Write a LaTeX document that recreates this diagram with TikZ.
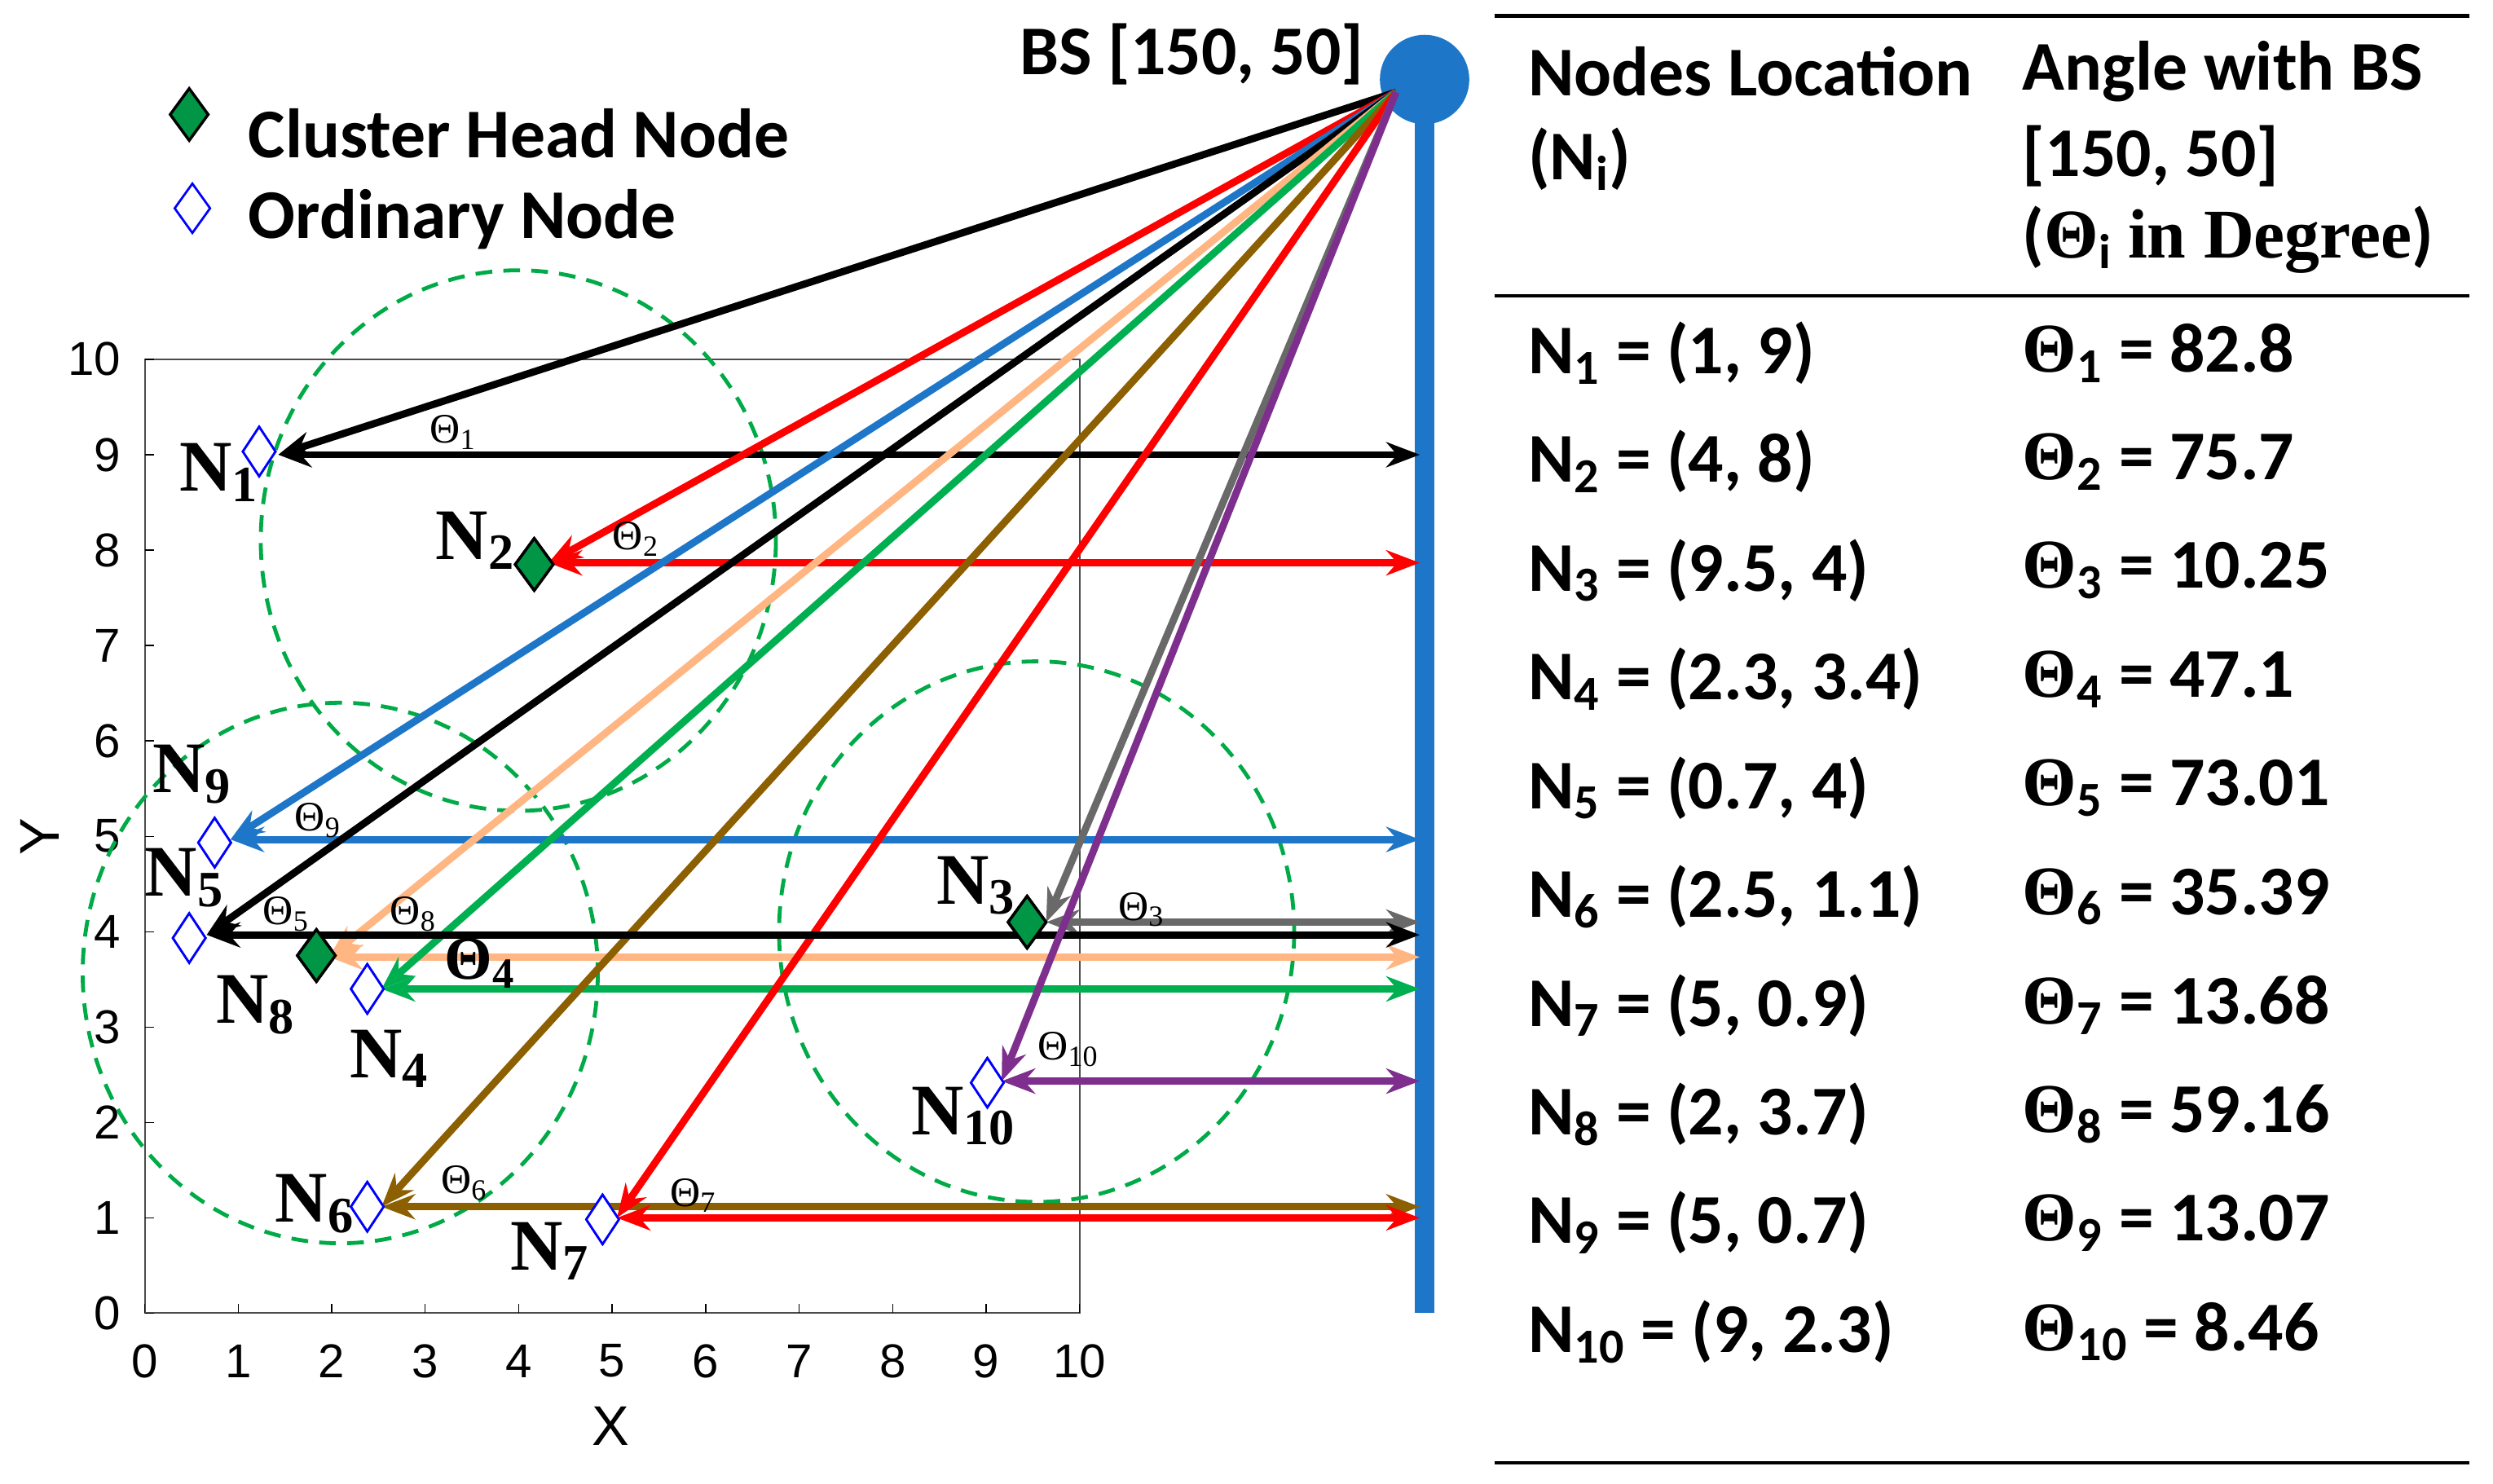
\documentclass[tikz,border=0pt]{standalone}
\usepackage{fontspec}
\setmainfont{Carlito}
\newfontfamily\tms{Liberation Serif}
\newfontfamily\arl{Liberation Sans}
\usetikzlibrary{arrows.meta,shapes.geometric}
\definecolor{cblue}{RGB}{30,118,200}
\definecolor{cpeach}{RGB}{255,182,130}
\definecolor{cgreen}{RGB}{0,176,80}
\definecolor{cbrown}{RGB}{140,95,0}
\definecolor{cgray}{RGB}{105,105,105}
\definecolor{cpurple}{RGB}{126,47,142}
\definecolor{cdash}{RGB}{0,170,70}
\definecolor{cdia}{RGB}{0,150,70}
\tikzset{
 wire/.style={line width=2.6pt,-{Stealth[length=12pt,width=9pt]}},
 hor/.style={line width=2.6pt,{Stealth[length=12pt,width=9pt]}-{Stealth[length=12pt,width=9pt]}},
 od/.style={diamond,draw=blue,fill=white,line width=0.8pt,minimum width=12pt,minimum height=18pt,inner sep=0pt},
 ch/.style={diamond,draw=black,fill=cdia,line width=1pt,minimum width=14pt,minimum height=19pt,inner sep=0pt},
 nl/.style={font=\tms\bfseries\fontsize{26}{28}\selectfont},
 th/.style={font=\tms\fontsize{15}{16}\selectfont},
 tick/.style={font=\arl\fontsize{17}{18}\selectfont},
 tb/.style={font=\bfseries\fontsize{25}{28}\selectfont,anchor=west},
 clu/.style={cdash,dashed,line width=1.4pt,dash pattern=on 6pt off 4pt}
}
\begin{document}
\begin{tikzpicture}[x=0.02cm,y=-0.02cm]
\useasboundingbox (0,0) rectangle (1568,933.4);
\draw[line width=0.6pt,black!70] (91,226) rectangle (679,826);
\foreach \i in {0,...,10}{
 \draw (91+58.8*\i,826) -- (91+58.8*\i,820);
 \draw (91,826-60*\i) -- (97,826-60*\i);
 \node[tick] (xt\i) at (91+58.8*\i,856) {\i};
 \node[tick,anchor=east] (yt\i) at (82,826-60*\i) {\i};
}
\node[tick,font=\arl\fontsize{20}{22}\selectfont] (xl) at (384,897) {X};
\node[tick,font=\arl\fontsize{20}{22}\selectfont,rotate=90] (yl) at (25,526) {Y};
\draw[clu] (326,340) ellipse (162 and 170);
\draw[clu] (214,612) ellipse (162 and 170);
\draw[clu] (652,586) ellipse (162 and 170);
\draw[cblue,line width=7pt] (896,50) -- (896,826);
\node[circle,fill=cblue,minimum size=32pt,inner sep=0pt] (bs) at (896,50) {};
\node[font=\bfseries\fontsize{25}{28}\selectfont,anchor=east] (bsl) at (864,34) {BS [150, 50]};
\coordinate (o) at (878,58);
\node[od] (n1) at (163,284) {};
\node[ch] (n2) at (336,355) {};
\node[ch] (n3) at (646,580) {};
\node[od] (n4) at (231,622) {};
\node[od] (n5) at (119,590) {};
\node[od] (n6) at (231,759) {};
\node[od] (n7) at (379,767) {};
\node[ch] (n8) at (199,601) {};
\node[od] (n9) at (135,530) {};
\node[od] (n10) at (621,681) {};
\foreach \n/\x/\y in {a1/175/286,a2/345/354,a3/658/580,a4/240/622,a5/130/588,a6/240/759,a7/388/766,a8/207/602,a9/145/528,a10/630/680}{\coordinate (\n) at (\x,\y);}
\foreach \n/\y in {b1/286,b2/354,b3/580,b4/622,b5/588,b6/759,b7/766,b8/602,b9/528,b10/680}{\coordinate (\n) at (893,\y);}
\draw[wire] (o) -- (a1); \draw[hor] (a1) -- (b1);
\draw[wire,red] (o) -- (a2); \draw[hor,red] (a2) -- (b2);
\draw[wire,cblue] (o) -- (a9); \draw[hor,cblue] (a9) -- (b9);
\draw[wire] (o) -- (a5);
\draw[wire,cpeach] (o) -- (a8); \draw[hor,cpeach] (a8) -- (b8);
\draw[wire,cgreen] (o) -- (a4); \draw[hor,cgreen] (a4) -- (b4);
\draw[wire,cbrown] (o) -- (a6); \draw[hor,cbrown] (a6) -- (b6);
\draw[wire,red] (o) -- (a7); \draw[hor,red] (a7) -- (b7);
\draw[wire,cgray] (o) -- (a3); \draw[hor,cgray] (a3) -- (b3);
\draw[hor] (a5) -- (b5);
\draw[wire,cpurple] (o) -- (a10); \draw[hor,cpurple] (a10) -- (b10);
\foreach \s/\p in {od/n1,ch/n2,ch/n3,od/n4,od/n5,od/n6,od/n7,ch/n8,od/n9,od/n10}{\node[\s] at (\p) {};}
\node[th] (t1) at (285,272) {Θ\textsubscript{1}};
\node[th] (t2) at (400,339) {Θ\textsubscript{2}};
\node[th] (t9) at (200,516) {Θ\textsubscript{9}};
\node[th] (t5) at (180,575) {Θ\textsubscript{5}};
\node[th] (t8) at (260,575) {Θ\textsubscript{8}};
\node[th,font=\tms\bfseries\fontsize{22}{24}\selectfont] (t4) at (302,606) {Θ\textsubscript{4}};
\node[th] (t3) at (718,572) {Θ\textsubscript{3}};
\node[th] (t10) at (672,660) {Θ\textsubscript{10}};
\node[th] (t6) at (292,744) {Θ\textsubscript{6}};
\node[th] (t7) at (436,752) {Θ\textsubscript{7}};
\node[nl] (l1) at (138,297) {N\textsubscript{1}};
\node[nl] (l2) at (299,340) {N\textsubscript{2}};
\node[nl] (l9) at (121,487) {N\textsubscript{9}};
\node[nl] (l5) at (116,552) {N\textsubscript{5}};
\node[nl] (l3) at (614,557) {N\textsubscript{3}};
\node[nl] (l8) at (161,632) {N\textsubscript{8}};
\node[nl] (l4) at (245,666) {N\textsubscript{4}};
\node[nl] (l10) at (606,702) {N\textsubscript{10}};
\node[nl] (l6) at (198,757) {N\textsubscript{6}};
\node[nl] (l7) at (346,787) {N\textsubscript{7}};
\node[ch,minimum width=14pt,minimum height=19pt] (lg1) at (119,72) {};
\node[od,minimum width=13pt,minimum height=18pt] (lg2) at (121,131) {};
\node[tb] (lt1) at (150,84) {Cluster Head Node};
\node[tb] (lt2) at (150,138) {Ordinary Node};
\draw[line width=1.2pt] (940,10) -- (1553,10);
\draw[line width=1.2pt] (940,186) -- (1553,186);
\draw[line width=1.2pt] (940,920) -- (1553,920);
\node[tb] (h1) at (955,45) {Nodes Location};
\node[tb] (h2) at (955,100) {(N\textsubscript{i})};
\node[tb] (h3) at (1266,45) {Angle with BS};
\node[tb] (h4) at (1266,98) {[150, 50]};
\node[tb] (h5) at (1266,151) {({\tms\bfseries Θ}\textsubscript{i} {\tms\bfseries in Degree})};
\foreach \k/\a/\b [count=\r from 0] in {1/{(1, 9)}/82.8,2/{(4, 8)}/75.7,3/{(9.5, 4)}/10.25,4/{(2.3, 3.4)}/47.1,5/{(0.7, 4)}/73.01,6/{(2.5, 1.1)}/35.39,7/{(5, 0.9)}/13.68,8/{(2, 3.7)}/59.16,9/{(5, 0.7)}/13.07,10/{(9, 2.3)}/8.46}{
 \node[tb] (r\k) at (955,222+68.4*\r) {N\textsubscript{\k} = \a};
 \node[tb] (s\k) at (1266,222+68.4*\r) {{\tms\bfseries Θ}\textsubscript{\k} = \b};
}
\end{tikzpicture}
\end{document}
